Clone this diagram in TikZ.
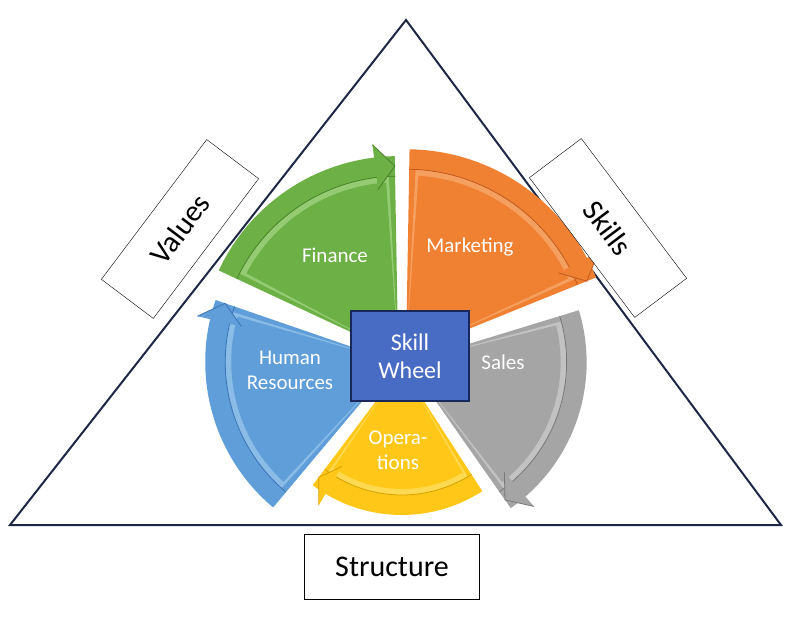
\documentclass[tikz,border=0pt]{standalone}
\usepackage{fontspec}
\setmainfont{Carlito}
\begin{document}
\begin{tikzpicture}[x=1pt,y=-1pt,
  lbl/.style={text=white,font=\fontsize{21}{25}\selectfont,align=center},
  sidebox/.style={draw=black,fill=white,minimum width=175pt,minimum height=65pt,font=\fontsize{30}{32}\selectfont}]
\useasboundingbox (0,0) rectangle (792,621);
\fill[white] (0,0) rectangle (792,621);
\coordinate (A) at (406,20);
\coordinate (B) at (10,525);
\coordinate (C) at (781,525);
\draw[line width=2pt,color={rgb,255:red,30;green,40;blue,70}] (A) -- (B) -- (C) -- cycle;
% #1 fill, #2 start angle, #3 end angle, #4 radius, #5 light colour, #6 dark colour
\newcommand{\mysegm}[6]{%
  \begin{scope}[shift={({(#2+#3)/2}:7)}]
  \fill[#1] (0,0) -- (#2:#4) arc[start angle=#2,end angle=#3,radius=#4] -- cycle;
  \fill[#5,opacity=0.45] (0,0) -- (#2-2:#4-20) arc[start angle=#2-2,end angle=#3+2,radius=#4-20] -- cycle;
  \fill[#1] (0,0) -- (#2-3:#4-26) arc[start angle=#2-3,end angle=#3+3,radius=#4-26] -- cycle;
  \draw[#6,line width=0.8pt] (#2:#4-20) arc[start angle=#2,end angle=#3,radius=#4-20];
  \fill[#1] (#3+6:#4+13) -- (#3:#4-10) -- (#3+6:#4-32) -- cycle;
  \draw[#6,line width=0.8pt] (#3+6:#4+13) -- (#3:#4-10) -- (#3+6:#4-32);
  \end{scope}}
\begin{scope}[shift={(402,360)},yscale=-1]
\definecolor{cg}{RGB}{108,176,70}\definecolor{cgl}{RGB}{200,240,170}\definecolor{cgd}{RGB}{70,130,40}
\definecolor{co}{RGB}{240,128,50}\definecolor{col}{RGB}{255,200,150}\definecolor{cod}{RGB}{190,90,30}
\definecolor{cs}{RGB}{165,165,165}\definecolor{csl}{RGB}{230,230,230}\definecolor{csd}{RGB}{120,120,120}
\definecolor{cy}{RGB}{255,200,25}\definecolor{cyl}{RGB}{255,240,150}\definecolor{cyd}{RGB}{210,160,0}
\definecolor{cb}{RGB}{95,158,216}\definecolor{cbl}{RGB}{190,225,250}\definecolor{cbd}{RGB}{60,115,180}
\mysegm{cg}{155}{91}{198}{cgl}{cgd}
\mysegm{co}{89}{22}{205}{col}{cod}
\mysegm{cs}{17}{-55}{178}{csl}{csd}
\mysegm{cy}{-57}{-127}{148}{cyl}{cyd}
\mysegm{cb}{-130}{-199}{190}{cbl}{cbd}
\end{scope}
\node[lbl] (fin) at (335,255) {Finance};
\node[lbl] (mkt) at (470,247) {Marketing};
\node[lbl] (sal) at (503,362) {Sales};
\node[lbl] (hr) at (290,370) {Human\\Resources};
\node[lbl] (ops) at (398,450) {Opera-\\tions};
\node[draw={rgb,255:red,25;green,40;blue,90},line width=1.5pt,fill={rgb,255:red,72;green,108;blue,196},minimum width=118pt,minimum height=90pt,text=white,font=\fontsize{24}{28}\selectfont,align=center] (sw) at (410,356) {Skill\\Wheel};
\node[sidebox,rotate=53] (val) at (180,229) {Values};
\node[sidebox,rotate=-53] (ski) at (608,228) {Skills};
\node[sidebox,minimum width=175pt,minimum height=65pt] (str) at (392,567) {Structure};
\end{tikzpicture}
\end{document}
